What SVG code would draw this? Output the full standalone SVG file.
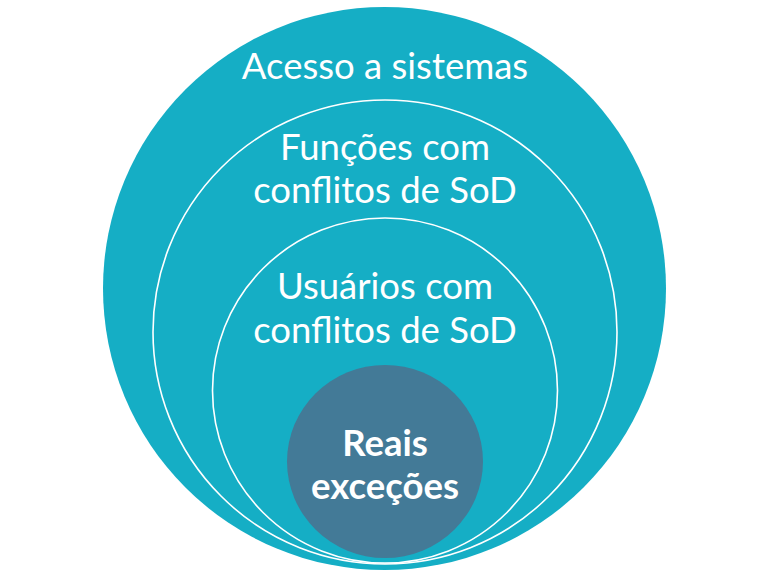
<svg xmlns="http://www.w3.org/2000/svg" width="768" height="576" viewBox="0 0 768 576">
<style>
.ring{fill:#15aec5;}
.line{fill:none;stroke:#ffffff;stroke-width:1.6;}
.lbl{font-family:Lato,"Open Sans",sans-serif;font-size:36.5px;fill:#ffffff;text-anchor:middle;}
.core{font-family:Lato,"Open Sans",sans-serif;font-size:36.5px;font-weight:bold;fill:#ffffff;text-anchor:middle;}
</style>
<rect width="768" height="576" fill="#ffffff"/>
<g id="acesso">
<circle class="ring" cx="384.5" cy="288.5" r="281.5"/>
<text class="lbl" x="385" y="79">Acesso a sistemas</text>
</g>
<g id="funcoes">
<circle class="line" cx="385" cy="332" r="232"/>
<text class="lbl" x="385" y="160">Funções com</text>
<text class="lbl" x="385" y="203">conflitos de SoD</text>
</g>
<g id="usuarios">
<circle class="line" cx="385" cy="390.5" r="172.5"/>
<text class="lbl" x="385" y="299">Usuários com</text>
<text class="lbl" x="385" y="343">conflitos de SoD</text>
</g>
<g id="reais">
<ellipse cx="385" cy="461.5" rx="98" ry="96.5" fill="#437a97"/>
<text class="core" x="385" y="456">Reais</text>
<text class="core" x="385" y="499">exceções</text>
</g>
<g id="connectors"/>
</svg>
